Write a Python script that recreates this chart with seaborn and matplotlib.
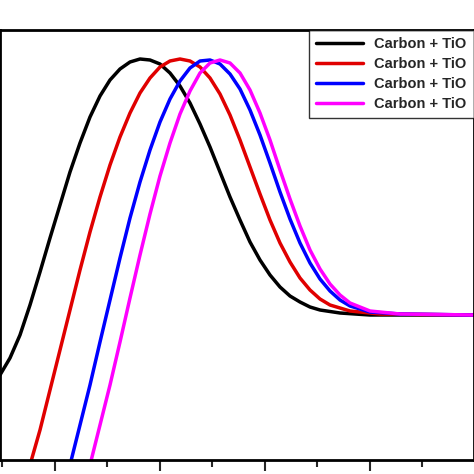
import matplotlib
matplotlib.use("Agg")
import matplotlib.pyplot as plt
import seaborn as sns
import pandas as pd

sns.set_style("white")
plt.rcParams['font.family'] = ['Liberation Sans', 'DejaVu Sans']

labels = ["Carbon + TiO"] * 4
colors = ["#000000", "#e00000", "#0000ff", "#ff00ff"]

black_x = [0, 10, 20, 30, 40, 50, 60, 70, 80, 90, 100, 110, 120, 130, 140, 150, 160, 170, 180, 190,
           200, 210, 220, 230, 240, 250, 260, 270, 280, 290, 300, 310, 320, 340, 370, 474]
black_y = [375, 358, 335, 305, 272, 238, 205, 172, 143, 117, 96, 80, 69, 62, 59, 60, 64, 73, 86, 103,
           124, 147, 172, 197, 220, 242, 260, 275, 287, 296, 302, 307, 310, 313, 315, 315]
red_x = [30, 40, 50, 60, 70, 80, 90, 100, 110, 120, 130, 140, 150, 160, 170, 180, 190, 200, 210, 220,
         230, 240, 250, 260, 270, 280, 290, 300, 310, 320, 330, 350, 380, 474]
red_y = [465, 430, 390, 350, 310, 270, 232, 197, 165, 137, 113, 93, 78, 67, 61, 59, 61, 67, 78, 94,
         115, 140, 167, 194, 220, 243, 262, 278, 290, 299, 305, 311, 314, 315]
blue_x = [70, 80, 90, 100, 110, 120, 130, 140, 150, 160, 170, 180, 190, 200, 210, 220, 230, 240, 250,
          260, 270, 280, 290, 300, 310, 320, 330, 340, 350, 370, 400, 474]
blue_y = [465, 425, 385, 342, 300, 258, 218, 182, 150, 122, 99, 81, 68, 61, 60, 64, 74, 89, 110,
          135, 163, 192, 219, 243, 263, 279, 291, 300, 306, 312, 314, 315]
mag_x = [90, 100, 110, 120, 130, 140, 150, 160, 170, 180, 190, 200, 210, 220, 230, 240, 250, 260,
         270, 280, 290, 300, 310, 320, 330, 340, 350, 370, 400, 474]
mag_y = [465, 425, 385, 342, 298, 255, 214, 176, 143, 114, 91, 73, 63, 60, 63, 73, 90, 113,
         140, 170, 199, 226, 250, 269, 284, 295, 303, 311, 314, 315]

series = [(black_x, black_y), (red_x, red_y), (blue_x, blue_y), (mag_x, mag_y)]

fig = plt.figure(figsize=(4.74, 4.74), dpi=100)
ax = fig.add_axes([0.0, 14/474, 1.0, 430/474])
for i, (xs, ys) in enumerate(series):
    df = pd.DataFrame({"x": xs, "y": ys})
    sns.lineplot(data=df, x="x", y="y", ax=ax, color=colors[i], lw=2.5,
                 label=labels[i], estimator=None, sort=False)
ax.set_xlim(0, 474)
ax.set_ylim(460, 30)
ax.set_xticks([55, 160, 265, 370])
ax.set_xticks([2.5, 107.5, 212.5, 317.5, 422.5], minor=True)
ax.set_yticks([])
ax.tick_params(axis='x', which='major', direction='out', length=8, width=1.5, bottom=True, labelbottom=False)
ax.tick_params(axis='x', which='minor', direction='out', length=5, width=1.5, bottom=True)
ax.set_xlabel("")
ax.set_ylabel("")
for s in ax.spines.values():
    s.set_linewidth(2)
    s.set_color("black")
leg = ax.legend(loc="upper right", prop={'weight': 'bold', 'size': 10.5},
                frameon=True, fancybox=False, edgecolor="black", borderaxespad=0,
                handlelength=3.2, labelspacing=0.4, borderpad=0.5)
leg.get_frame().set_linewidth(1)
fig.savefig("out.png", dpi=100)
